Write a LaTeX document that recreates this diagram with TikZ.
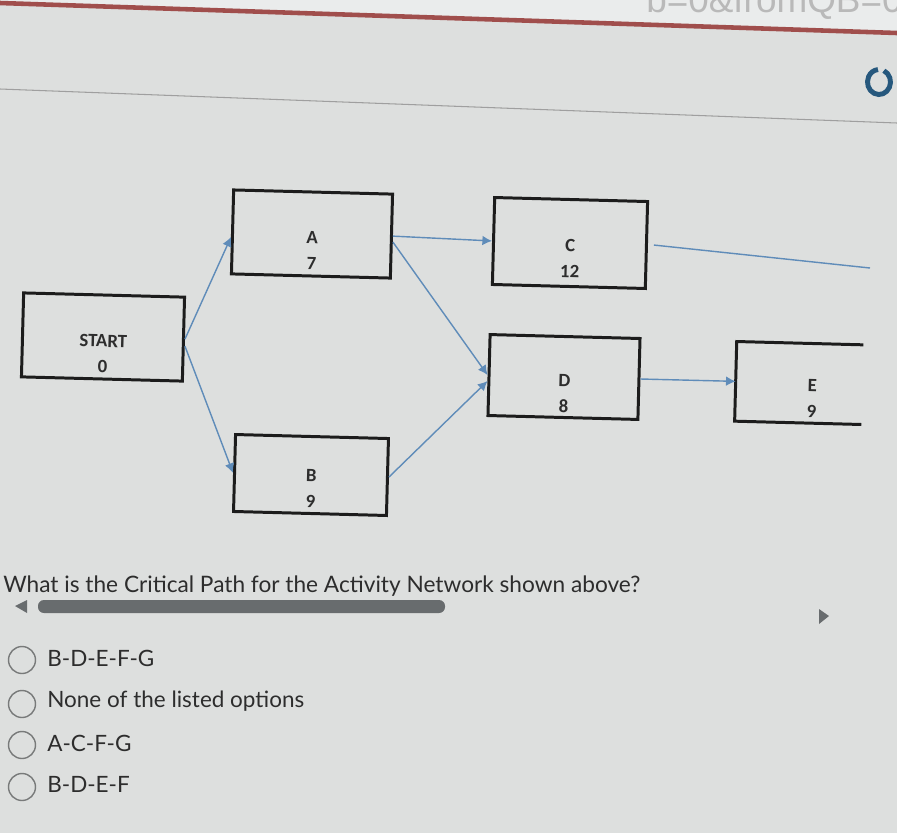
\documentclass[tikz,border=0pt]{standalone}
\usepackage{fontspec}
\setmainfont{Lato}
\newfontfamily\actfont{Carlito}
\newfontfamily\urlfont{Liberation Sans}
\usetikzlibrary{arrows.meta}
\definecolor{bggray}{RGB}{221,223,222}
\definecolor{toplight}{RGB}{234,236,236}
\definecolor{boxline}{RGB}{28,28,28}
\definecolor{arrowblue}{RGB}{95,140,185}
\definecolor{textgray}{RGB}{45,45,45}
\definecolor{redbar}{RGB}{160,78,76}
\definecolor{spinblue}{RGB}{38,88,125}
\definecolor{bardark}{RGB}{104,108,110}
\definecolor{radiogray}{RGB}{120,122,122}

\begin{document}
\begin{tikzpicture}[x=0.02cm, y=-0.02cm,
    actbox/.style={draw=boxline, line width=1.7pt, rotate=-1.5},
    acttext/.style={font=\actfont\bfseries\fontsize{10.7}{14.8}\selectfont,
      align=center, text=textgray, rotate=-1.5},
    flow/.style={arrowblue, line width=0.8pt, -{Latex[length=5.5pt,width=5.5pt]}},
    radio/.style={circle, draw=radiogray, line width=0.8pt, minimum size=0.54cm,
      inner sep=0pt},
    option/.style={font=\fontsize{12.8}{15}\selectfont, text=textgray,
      anchor=west, inner sep=0pt}]

  % Screen
  \fill[bggray] (0,0) rectangle (897,833);
  \useasboundingbox (0,0) rectangle (897,833);
  \fill[toplight] (0,0) -- (897,0) -- (897,33) -- (0,3) -- cycle;

  % Address bar remains
  \begin{scope}
    \clip (0,0) rectangle (897,30);
    \node[anchor=base east, text=gray!55, font=\urlfont\fontsize{21}{21}\selectfont,
      inner sep=0pt] (url) at (903,12) {b=0\&fromQB=0};
  \end{scope}
  \draw[redbar, line width=2.6pt] (0,3) -- (897,33);

  % Page rule and spinner
  \draw[gray!75, line width=0.6pt] (0,89) -- (897,123);
  \draw[spinblue, line width=2.8pt] (879,82) ++(295:11.5 and 12.5) %
    arc[start angle=295, end angle=625, x radius=11.5, y radius=12.5];

  % Activity boxes
  \node[actbox, minimum width=3.22cm, minimum height=1.68cm] (START) at (103,337) {};
  \node[actbox, minimum width=3.18cm, minimum height=1.68cm] (A) at (312,234) {};
  \node[actbox, minimum width=3.06cm, minimum height=1.54cm] (B) at (311,475) {};
  \node[actbox, minimum width=3.06cm, minimum height=1.74cm] (C) at (570,243) {};
  \node[actbox, minimum width=3.00cm, minimum height=1.62cm] (D) at (564,377) {};
  \node[rotate=-1.5, minimum width=2.52cm, minimum height=1.58cm] (E) at (799,383) {};

  % Box E is cut off on the right
  \draw[boxline, line width=1.7pt] %
    (E.north east) -- (E.north west) -- (E.south west) -- (E.south east);

  % Names and durations
  \node[acttext] (START-lbl) at ([yshift=-0.34cm]START.center) {START\\0};
  \node[acttext] (A-lbl) at ([yshift=-0.34cm]A.center) {A\\7};
  \node[acttext] (B-lbl) at ([yshift=-0.28cm]B.center) {B\\9};
  \node[acttext] (C-lbl) at ([yshift=-0.31cm]C.center) {C\\12};
  \node[acttext] (D-lbl) at ([yshift=-0.33cm]D.center) {D\\8};
  \node[acttext] (E-lbl) at ([xshift=0.26cm, yshift=-0.31cm]E.center) {E\\9};

  % Arrows between activities
  \draw[flow] (START.east) -- ([yshift=-0.1cm]A.west);
  \draw[flow] ([yshift=-0.14cm]START.east) -- (B.west);
  \draw[flow] (A.east) -- (C.west);
  \draw[flow] ([yshift=-0.12cm]A.east) -- (D.west);
  \draw[flow] (B.east) -- ([yshift=-0.12cm]D.west);
  \draw[flow] (D.east) -- (E.west);

  % Line out of C runs off the screen
  \coordinate (toF) at (870,268);
  \draw[arrowblue, line width=0.8pt] ([xshift=0.12cm]C.east) -- (toF);

  % Question
  \node[anchor=west, inner sep=0pt, text=textgray, font=\fontsize{12.9}{15}\selectfont] %
    (question) at (3,586) {What is the Critical Path for the Activity Network shown above?};

  % Scroll bar
  \fill[bardark] (15,606) -- (27,600) -- (27,613) -- cycle;
  \fill[bardark, rounded corners=3.4pt] (38,600) rectangle (445,613);
  \fill[bardark] (829,616) -- (819,609) -- (819,624) -- cycle;

  % Answer options
  \node[radio] (radio1) at (22,660) {};
  \node[radio] (radio2) at (22,704) {};
  \node[radio] (radio3) at (22,745) {};
  \node[radio] (radio4) at (22,787) {};
  \node[option] (opt1) at (47,658) {B-D-E-F-G};
  \node[option] (opt2) at (47,701) {None of the listed options};
  \node[option] (opt3) at (47,743) {A-C-F-G};
  \node[option] (opt4) at (47,784) {B-D-E-F};
\end{tikzpicture}
\end{document}
